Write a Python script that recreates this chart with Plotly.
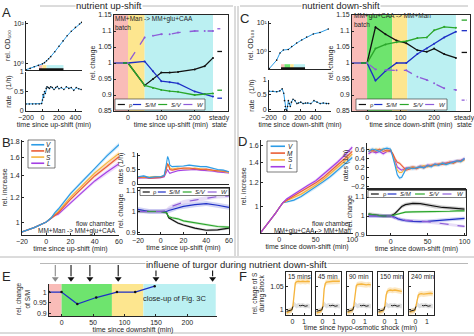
import plotly.graph_objects as go

W, H = 474, 336

# ---------------- colours ----------------
K_V, K_M, K_S, K_L = "#2c9ce6", "#ea5d35", "#f5b43c", "#a43fe4"
K_RHO, K_SM, K_SV, K_W = "#111111", "#1d2fc6", "#2aa62a", "#8d5cd8"
SH_PINK, SH_YEL, SH_CYAN, SH_GREEN = "#f9bcb8", "#fde68f", "#bbf0f2", "#6ee46e"

# ---------------- A: nutrient up-shift, batch ----------------
A_OD_T = [-200, -150, -100, -50, 0, 25, 50, 75, 100, 150, 200, 250, 300, 350, 400, 450, 475]
A_OD = [0.47, 0.55, 0.66, 0.78, 0.93, 1.07, 1.32, 1.66, 2.14, 3.8, 7.1, 13.2, 24, 40, 63, 93, 112]
A_RATE_T = [-200, -160, -120, -80, -40, -10, 0, 8, 15, 25, 35, 45, 55, 70, 85, 100, 120, 140,
            160, 180, 200, 230, 260, 290, 320, 350, 380, 410, 440, 470]
A_RATE = [0.18, 0.18, 0.18, 0.18, 0.18, 0.19, 0.28, 0.42, 0.35, 0.5, 0.45, 0.58, 0.62, 0.6, 0.58,
          0.62, 0.6, 0.55, 0.6, 0.63, 0.57, 0.6, 0.55, 0.62, 0.58, 0.6, 0.53, 0.6, 0.57, 0.55]
A_T = [-42, 0, 50, 75, 100, 125, 150, 200, 230, 255]
A_RHO = [1.0, 1.0, 0.93, 0.95, 0.97, 0.97, 0.972, 0.98, 0.99, 1.016]
A_SM = [1.0, 1.0, 1.005, 0.974, 0.943, 0.94, 0.936, 0.911, 0.903, 0.895]
A_SV = [1.0, 1.0, 0.93, 0.922, 0.916, 0.912, 0.91, 0.9, 0.902, 0.905]
A_WW = [1.0, 1.0, 1.08, 1.085, 1.09, 1.09, 1.095, 1.1, 1.1, 1.1]
A_STEADY = [1.036, 0.89, 0.915, 1.107]          # rho, S/M, S/V, W
A_PHASES = [-42, 0, 50, 255]                    # batch / transition / new medium
A_PHASE_COLS = [SH_PINK, SH_YEL, SH_CYAN]
A_SS_X = 275

# ---------------- C: nutrient down-shift, batch ----------------
C_OD_T = [-196, -101, -58, -15, 49, 93, 157, 222, 286, 372, 458, 565]
C_OD = [0.26, 0.51, 0.91, 1.15, 1.2, 1.51, 2.0, 2.57, 3.24, 4.17, 4.68, 6.17]
C_RATE_T = [-200, -150, -100, -60, -30, -10, 0, 10, 20, 30, 40, 50, 60, 75, 90, 110, 135, 160,
            180, 210, 240, 270, 300, 340, 380, 420, 460, 500, 540, 570]
C_RATE = [0.62, 0.62, 0.6, 0.63, 0.7, 0.55, 0.3, 0.1, 0.0, -0.03, 0.1, 0.3, 0.2, 0.1, 0.25,
          0.35, 0.3, 0.2, 0.22, 0.25, 0.2, 0.22, 0.22, 0.2, 0.3, 0.25, 0.2, 0.22, 0.2, 0.2]
C_T = [-45, 0, 25, 55, 88, 117, 150, 178, 200, 230, 265]
C_RHO = [1.0, 1.0, 1.112, 1.09, 1.07, 1.062, 1.04, 1.035, 1.045, 1.028, 1.016]
C_SM = [1.0, 1.0, 0.945, 0.975, 1.0, 1.0, 1.028, 1.045, 1.06, 1.08, 1.098]
C_SV = [1.0, 1.0, 1.045, 1.058, 1.065, 1.068, 1.078, 1.08, 1.102, 1.113, 1.11]
C_WW = [1.0, 1.0, 0.98, 0.978, 0.977, 0.977, 0.957, 0.947, 0.937, 0.921, 0.916]
C_STEADY = [1.033, 1.101, 1.134, 0.884]
C_PHASES = [-45, 0, 75, 120, 265]
C_PHASE_COLS = [SH_PINK, SH_GREEN, SH_YEL, SH_CYAN]
C_SS_X = 290

# ---------------- B: up-shift in flow chamber ----------------
B_T = [-20, -10, 0, 4, 7, 10, 20, 30, 40, 50, 60]
B_V = [0.93, 0.96, 1.0, 1.03, 1.07, 1.1, 1.23, 1.35, 1.47, 1.62, 1.76]
B_M = [0.93, 0.96, 1.0, 1.03, 1.05, 1.07, 1.18, 1.29, 1.4, 1.5, 1.61]
B_S = [0.93, 0.96, 1.0, 1.03, 1.05, 1.08, 1.2, 1.31, 1.43, 1.54, 1.65]
B_L = [0.93, 0.96, 1.0, 1.03, 1.05, 1.06, 1.15, 1.25, 1.35, 1.44, 1.53]
B_ERR = [0.005, 0.005, 0.005, 0.007, 0.01, 0.012, 0.015, 0.018, 0.02, 0.025, 0.03]
B_RT = [-20, -15, -10, -5, 0, 3, 5, 6, 7, 8, 10, 15, 20, 25, 30, 35, 40, 45, 50, 55, 60]
B_RV = [0.25, 0.28, 0.22, 0.25, 0.25, 0.3, 0.7, 0.95, 0.85, 0.65, 0.6, 0.6, 0.62, 0.65, 0.62, 0.6, 0.6, 0.55, 0.5, 0.48, 0.42]
B_RM = [0.22, 0.25, 0.2, 0.22, 0.23, 0.28, 0.55, 0.7, 0.62, 0.5, 0.48, 0.52, 0.55, 0.55, 0.53, 0.5, 0.52, 0.48, 0.45, 0.45, 0.42]
B_RS = [0.25, 0.22, 0.24, 0.26, 0.25, 0.3, 0.5, 0.7, 0.65, 0.55, 0.52, 0.55, 0.53, 0.52, 0.55, 0.52, 0.5, 0.47, 0.46, 0.44, 0.4]
B_RL = [0.2, 0.22, 0.2, 0.2, 0.22, 0.25, 0.4, 0.5, 0.42, 0.37, 0.4, 0.46, 0.48, 0.5, 0.5, 0.48, 0.47, 0.45, 0.42, 0.4, 0.38]
B_CT = [-20, -10, 0, 5, 7, 10, 15, 20, 30, 40, 50, 60]
B_RHO = [1.0, 1.0, 1.0, 0.995, 0.97, 0.96, 0.945, 0.935, 0.92, 0.91, 0.912, 0.92]
B_SM = [1.01, 1.0, 1.0, 1.0, 1.005, 1.01, 1.02, 1.025, 1.033, 1.038, 1.03, 1.02]
B_SV = [1.0, 1.0, 1.0, 0.995, 0.975, 0.97, 0.965, 0.955, 0.945, 0.935, 0.928, 0.925]
B_WW = [1.0, 1.0, 1.0, 1.005, 1.015, 1.025, 1.035, 1.045, 1.055, 1.065, 1.072, 1.075]

# ---------------- D: down-shift in flow chamber ----------------
D_T = [-25, -15, -5, 0, 5, 10, 20, 30, 40, 50, 60, 70, 80, 90, 100]
D_V = [0.82, 0.88, 0.95, 0.99, 1.03, 1.035, 1.05, 1.08, 1.12, 1.16, 1.21, 1.26, 1.32, 1.39, 1.46]
D_S = [0.82, 0.88, 0.95, 0.99, 1.03, 1.045, 1.07, 1.1, 1.14, 1.18, 1.23, 1.29, 1.35, 1.42, 1.5]
D_M = [0.82, 0.88, 0.95, 0.99, 1.03, 1.05, 1.085, 1.12, 1.16, 1.2, 1.25, 1.31, 1.38, 1.45, 1.53]
D_L = [0.82, 0.88, 0.95, 0.99, 1.03, 1.06, 1.1, 1.14, 1.18, 1.22, 1.28, 1.34, 1.41, 1.49, 1.58]
D_ERR = [0.005, 0.005, 0.005, 0.005, 0.006, 0.008, 0.01, 0.012, 0.014, 0.016, 0.018, 0.02, 0.022, 0.024, 0.026]
D_RT = [-30, -25, -20, -15, -10, -5, 0, 3, 6, 9, 12, 15, 18, 21, 25, 30, 35, 40, 45, 50, 55, 60,
        65, 70, 75, 80, 85, 90, 95, 100]
D_RV = [0.55, 0.6, 0.58, 0.55, 0.6, 0.62, 0.6, 0.45, 0.25, 0.05, -0.02, 0.0, 0.1, 0.18, 0.2, 0.18,
        0.2, 0.22, 0.2, 0.25, 0.22, 0.28, 0.25, 0.3, 0.27, 0.3, 0.32, 0.35, 0.33, 0.4]
D_RM = [0.55, 0.58, 0.55, 0.6, 0.55, 0.58, 0.57, 0.5, 0.4, 0.32, 0.3, 0.25, 0.18, 0.15, 0.17, 0.2,
        0.18, 0.22, 0.2, 0.24, 0.25, 0.26, 0.28, 0.27, 0.3, 0.32, 0.3, 0.34, 0.35, 0.38]
D_RS = [0.6, 0.55, 0.6, 0.58, 0.6, 0.55, 0.58, 0.48, 0.3, 0.15, 0.1, 0.1, 0.15, 0.18, 0.2, 0.22,
        0.2, 0.22, 0.25, 0.22, 0.26, 0.25, 0.28, 0.3, 0.28, 0.32, 0.3, 0.35, 0.33, 0.37]
D_RL = [0.5, 0.55, 0.52, 0.55, 0.5, 0.55, 0.55, 0.48, 0.35, 0.22, 0.18, 0.15, 0.17, 0.2, 0.2, 0.22,
        0.2, 0.24, 0.22, 0.26, 0.25, 0.28, 0.27, 0.3, 0.3, 0.32, 0.33, 0.35, 0.36, 0.4]
D_CT = [-30, -20, -10, 0, 5, 10, 15, 20, 30, 40, 50, 60, 70, 80, 90, 100]
D_RHO = [1.01, 1.005, 1.0, 1.0, 1.01, 1.03, 1.05, 1.06, 1.067, 1.065, 1.058, 1.05, 1.045, 1.043, 1.04, 1.036]
D_SV = [1.01, 1.005, 1.0, 1.0, 1.005, 1.012, 1.018, 1.02, 1.022, 1.022, 1.022, 1.022, 1.024, 1.025, 1.027, 1.027]
D_SM = [1.0, 1.0, 1.0, 1.0, 0.995, 0.985, 0.98, 0.975, 0.972, 0.97, 0.972, 0.975, 0.978, 0.982, 0.985, 0.988]
D_WW = [1.0, 1.0, 1.0, 1.0, 0.99, 0.985, 0.98, 0.978, 0.975, 0.973, 0.97, 0.965, 0.96, 0.955, 0.952, 0.945]

# ---------------- E: close-up of S/M after down-shift ----------------
E_T = [-20, 0, 25, 55, 88, 117, 148]
E_SM = [1.0, 1.0, 0.945, 0.975, 1.0, 1.0, 1.027]
E_PHASES = [-20, 0, 80, 130, 245]
E_PHASE_COLS = [SH_PINK, SH_GREEN, SH_YEL, SH_CYAN]
E_SHOCKS = [-10, 15, 45, 90, 150, 240]

# ---------------- F: hypo-osmotic shocks ----------------
F_T = [-0.5, -0.35, -0.2, -0.05, 0.05, 0.15, 0.25, 0.35, 0.5, 0.7, 0.9, 1.1, 1.3, 1.5]
F_TITLES = ["15 mins", "45 min", "90 min", "150 min", "240 min"]
F_S15 = [0.993, 0.995, 0.997, 1.0, 1.01, 1.045, 1.058, 1.061, 1.062, 1.061, 1.062, 1.061, 1.062, 1.061]
F_S45 = [0.993, 0.995, 0.996, 1.0, 1.01, 1.045, 1.057, 1.06, 1.061, 1.061, 1.062, 1.062, 1.062, 1.062]
F_S90 = [0.994, 0.996, 0.997, 1.0, 1.012, 1.04, 1.052, 1.055, 1.056, 1.056, 1.055, 1.054, 1.055, 1.054]
F_S150 = [0.994, 0.995, 0.997, 1.0, 1.01, 1.032, 1.04, 1.042, 1.043, 1.042, 1.043, 1.042, 1.041, 1.04]
F_S240 = [0.995, 0.996, 0.997, 0.999, 1.008, 1.025, 1.032, 1.034, 1.035, 1.034, 1.035, 1.035, 1.036, 1.035]
F_CTRL = [0.997, 0.998, 0.999, 1.0, 1.008, 1.013, 1.01, 1.008, 1.01, 1.009, 1.01, 1.008, 1.009, 1.008]

REL_NAMES = ["ρ", "S/M", "S/V", "W"]
REL_COLS = [K_RHO, K_SM, K_SV, K_W]
REL_DASH = ["solid", "solid", "solid", "dash"]
SIZE_NAMES = ["V", "M", "S", "L"]
SIZE_COLS = [K_V, K_M, K_S, K_L]

FONT = "Liberation Sans, DejaVu Sans, Arial, sans-serif"
INK = "#262626"

fig = go.Figure()
layout = dict(width=W, height=H, margin=dict(l=0, r=0, t=0, b=0), paper_bgcolor="white",
              plot_bgcolor="rgba(0,0,0,0)", showlegend=False,
              font=dict(family=FONT, size=7, color=INK))
shapes, annots = [], []

AX = dict(showline=True, linecolor=INK, linewidth=0.7, ticks="inside", ticklen=2, tickwidth=0.6,
          tickcolor=INK, tickfont=dict(size=7, color=INK), showgrid=False, zeroline=False,
          automargin=False, fixedrange=True)


def axes(n, xs, ys, xo=None, yo=None):
    xn = "xaxis" if n == 1 else f"xaxis{n}"
    yn = "yaxis" if n == 1 else f"yaxis{n}"
    xr = "x" if n == 1 else f"x{n}"
    yr = "y" if n == 1 else f"y{n}"
    bx = dict(AX, domain=[xs[0] / W, xs[1] / W], anchor=yr)
    by = dict(AX, domain=[1 - ys[1] / H, 1 - ys[0] / H], anchor=xr)
    bx.update(xo or {})
    by.update(yo or {})
    layout[xn], layout[yn] = bx, by
    return xr, yr


def title(s, size=7, standoff=1):
    return dict(text=s, font=dict(size=size, color=INK), standoff=standoff)


def line(ax, x, y, color, width=1.0, dash="solid", mode="lines", **kw):
    fig.add_trace(go.Scatter(x=x, y=y, xaxis=ax[0], yaxis=ax[1], mode=mode,
                             line=dict(color=color, width=width, dash=dash),
                             hoverinfo="skip", **kw))


def band(ax, x, y, err, color, alpha=0.22):
    errs = err if isinstance(err, list) else [err] * len(x)
    up = [v + e for v, e in zip(y, errs)]
    lo = [v - e for v, e in zip(y, errs)]
    r, g, b = int(color[1:3], 16), int(color[3:5], 16), int(color[5:7], 16)
    fig.add_trace(go.Scatter(x=list(x) + list(x)[::-1], y=up + lo[::-1], xaxis=ax[0], yaxis=ax[1],
                             mode="lines", fill="toself", line=dict(width=0),
                             fillcolor=f"rgba({r},{g},{b},{alpha})", hoverinfo="skip"))


def phases(ax, edges, cols, y0=0, y1=1):
    for a, b, c in zip(edges[:-1], edges[1:], cols):
        shapes.append(dict(type="rect", xref=ax[0], yref=f"{ax[1]} domain", x0=a, x1=b, y0=y0, y1=y1,
                           fillcolor=c, line=dict(width=0), layer="below"))


def seg(x0, y0, x1, y1, color="#b8b8b8", w=1.0, dash="solid"):
    shapes.append(dict(type="line", xref="paper", yref="paper", x0=x0 / W, y0=1 - y0 / H,
                       x1=x1 / W, y1=1 - y1 / H, line=dict(color=color, width=w, dash=dash)))


def box(x0, y0, x1, y1, w=0.6):
    shapes.append(dict(type="rect", xref="paper", yref="paper", x0=x0 / W, y0=1 - y1 / H,
                       x1=x1 / W, y1=1 - y0 / H, line=dict(color=INK, width=w), fillcolor="white"))


def text(x, y, s, size=7, xanchor="left", yanchor="middle", style="normal", xref="paper", **kw):
    annots.append(dict(x=x / W if xref == "paper" else x, y=1 - y / H, xref=xref, yref="paper", text=s,
                       showarrow=False,
                       font=dict(size=size, color=kw.pop("color", INK), family=FONT, style=style),
                       xanchor=xanchor, yanchor=yanchor, borderpad=0, **kw))


def rel_legend(x0, y0, x1, y1, size=6):
    box(x0, y0, x1, y1)
    w = x1 - x0
    ym = (y0 + y1) / 2
    spans = [(0.03, 0.11, 0.14), (0.2, 0.29, 0.32), (0.48, 0.58, 0.61), (0.76, 0.87, 0.9)]
    for (a, b, t), name, col, dsh in zip(spans, REL_NAMES, REL_COLS, REL_DASH):
        seg(x0 + a * w, ym, x0 + b * w, ym, color=col, w=1.2, dash=dsh)
        text(x0 + t * w, ym + 0.3, name, size=size, style="normal" if name == "ρ" else "italic")


def size_legend(x0, y0, x1, y1, size=6.5):
    box(x0, y0, x1, y1)
    w, h = x1 - x0, y1 - y0
    for i, (name, col) in enumerate(zip(SIZE_NAMES, SIZE_COLS)):
        yy = y0 + h * (0.17 + 0.22 * i)
        seg(x0 + 0.12 * w, yy, x0 + 0.6 * w, yy, color=col, w=1.6)
        text(x0 + 0.9 * w, yy, name, size=size, xanchor="right", style="italic")


def steady_marks(ax, xc, half, values):
    for ss, col, dsh in zip(values, REL_COLS, REL_DASH):
        line(ax, [xc - half, xc + half], [ss, ss], col, width=1.3,
             dash="3px,2px" if dsh == "dash" else "solid")
    # two-line "steady state" label below the axis at the steady-state position
    text(xc, 117.5, "steady", xref=ax[0], xanchor="center", size=6.8)
    text(xc, 124.5, "state", xref=ax[0], xanchor="center", size=6.8)


# ================= panel A =================
axA1 = axes(1, (26, 82), (21, 70),
            dict(range=[-200, 480], showticklabels=False, ticks=""),
            dict(type="log", range=[-0.34, 2.12], tickvals=[1, 100],
                 ticktext=["10⁰", "10²"], title=title("rel. OD₆₀₀")))
axA2 = axes(2, (26, 82), (72, 111),
            dict(range=[-200, 480], tickvals=[-200, 0, 200, 400], title=title("time since up-shift (min)")),
            dict(range=[0, 1], tickvals=[0, 0.5, 1], ticktext=["0", "0.5", "1"], title=title("rate   (1/h)")))
axA3 = axes(3, (114, 228), (15, 111),
            dict(range=[-42, 300], tickvals=[0, 100, 200], mirror=True,
                 title=title("time since up-shift (min)")),
            dict(range=[0.85, 1.15], tickvals=[0.85, 0.9, 0.95, 1, 1.05, 1.1, 1.15],
                 title=title("rel. change"), mirror=True))

# timeline bar under the OD curve
phases(axA1, A_PHASES, A_PHASE_COLS, 0.02, 0.1)
shapes.append(dict(type="line", xref="x", yref="y domain", x0=A_PHASES[0], x1=A_PHASES[-1], y0=0.01, y1=0.01,
                   line=dict(color="#111", width=2.5)))
line(axA1, A_OD_T, A_OD, K_V, width=1.0, mode="lines+markers", marker=dict(size=1.6, color="#111"))
line(axA2, A_RATE_T, A_RATE, K_V, width=1.0, mode="lines+markers", marker=dict(size=1.6, color="#111"))

phases(axA3, A_PHASES, A_PHASE_COLS)
for ys, col, dsh in zip([A_RHO, A_SM, A_SV, A_WW], REL_COLS, REL_DASH):
    line(axA3, A_T, ys, col, width=1.3, dash=dsh, mode="lines+markers", marker=dict(size=2, color=col))
steady_marks(axA3, A_SS_X, 7, A_STEADY)
text(114, 19, "MM+Man -> MM+glu+CAA", size=6.5)
text(114, 27.5, "batch", size=6.5)
rel_legend(115, 99, 205, 110)

# ================= panel C =================
axC4 = axes(4, (269, 331), (21, 69),
            dict(range=[-200, 600], showticklabels=False, ticks=""),
            dict(type="log", range=[-0.6, 1.07], tickvals=[1, 10],
                 ticktext=["10⁰", "10¹"], title=title("rel. OD₆₀₀")))
axC5 = axes(5, (269, 331), (80, 111),
            dict(range=[-200, 600], tickvals=[-200, 0, 200, 400], title=title("time since down-shift (min)")),
            dict(range=[-0.05, 1.0], tickvals=[0, 0.5, 1], ticktext=["0", "0.5", "1"], title=title("rate   (1/h)")))
axC6 = axes(6, (352, 470), (15, 111),
            dict(range=[-45, 307], tickvals=[0, 100, 200], mirror=True,
                 title=title("time since down-shift (min)")),
            dict(range=[0.85, 1.15], tickvals=[0.85, 0.9, 0.95, 1, 1.05, 1.1, 1.15],
                 title=title("rel. change"), mirror=True))
phases(axC4, C_PHASES, C_PHASE_COLS, 0.02, 0.1)
shapes.append(dict(type="line", xref="x4", yref="y4 domain", x0=C_PHASES[0], x1=C_PHASES[-1], y0=0.01, y1=0.01,
                   line=dict(color="#111", width=2.5)))
line(axC4, C_OD_T, C_OD, K_V, width=1.0, mode="lines+markers", marker=dict(size=1.6, color="#111"))
line(axC5, C_RATE_T, C_RATE, K_V, width=1.0, mode="lines+markers", marker=dict(size=1.6, color="#111"))

phases(axC6, C_PHASES, C_PHASE_COLS)
for ys, col, dsh in zip([C_RHO, C_SM, C_SV, C_WW], REL_COLS, REL_DASH):
    line(axC6, C_T, ys, col, width=1.3, dash=dsh, mode="lines+markers", marker=dict(size=2, color=col))
steady_marks(axC6, C_SS_X, 8, C_STEADY)
text(353, 16, "MM+glu+CAA -> MM+Man", size=6.5)
text(353, 25, "batch", size=6.5)
rel_legend(356, 99, 447, 110)

# ================= panel B =================
axB7 = axes(7, (22, 119), (140, 235),
            dict(range=[-20, 60], tickvals=[-20, 0, 20, 40, 60], title=title("time since up-shift (min)")),
            dict(type="log", range=[-0.041, 0.26], tickvals=[1, 1.2, 1.4, 1.6, 1.8],
                 ticktext=["1", "1.2", "1.4", "1.6", "1.8"], title=title("rel. increase")))
axB8 = axes(8, (138, 229), (153, 184),
            dict(range=[-20, 60], showticklabels=False, ticks=""),
            dict(range=[0, 1.07], tickvals=[0, 0.5, 1], ticktext=["0", "0.5", "1"], title=title("rates (1/h)")))
axB9 = axes(9, (138, 229), (188, 234),
            dict(range=[-20, 60], tickvals=[-20, 0, 20, 40, 60], mirror=True, title=title("time since up-shift (min)")),
            dict(range=[0.892, 1.113], tickvals=[0.9, 1, 1.1], ticktext=["0.9", "1", "1.1"], mirror=True,
                 title=title("rel. change")))
for ys, col in zip([B_L, B_S, B_M, B_V], [K_L, K_S, K_M, K_V]):
    band(axB7, B_T, ys, B_ERR, col, 0.2)
    line(axB7, B_T, ys, col, width=1.2)
for ys, col in zip([B_RL, B_RS, B_RM, B_RV], [K_L, K_S, K_M, K_V]):
    band(axB8, B_RT, ys, 0.03, col, 0.18)
    line(axB8, B_RT, ys, col, width=1.1)
for ys, col, dsh, e in zip([B_RHO, B_SM, B_SV, B_WW], REL_COLS, REL_DASH, [0.006, 0.012, 0.006, 0.01]):
    band(axB9, B_CT, ys, e, col, 0.2)
    line(axB9, B_CT, ys, col, width=1.2, dash=dsh)
size_legend(28, 140, 55, 168)
rel_legend(140, 188.5, 229, 195.5, size=6)
text(116, 223.5, "flow chamber", size=6.5, xanchor="right")
text(117, 231, "MM+Man -> MM+glu+CAA", size=6.5, xanchor="right")

# ================= panel D =================
axD10 = axes(10, (261, 353), (140, 233),
             dict(range=[-25, 101], tickvals=[0, 50, 100], title=title("time since down-shift (min)")),
             dict(type="log", range=[-0.089, 0.223], tickvals=[1, 1.2, 1.4, 1.6],
                  ticktext=["1", "1.2", "1.4", "1.6"], title=title("rel. increase")))
axD11 = axes(11, (367, 466), (143, 188),
             dict(range=[-32, 102], showticklabels=False, ticks=""),
             dict(range=[-0.23, 0.73], tickvals=[-0.2, 0, 0.2, 0.4, 0.6], title=title("rates (1/h)")))
axD12 = axes(12, (367, 466), (190, 235),
             dict(range=[-32, 102], tickvals=[0, 50, 100], mirror=True, title=title("time since down-shift (min)")),
             dict(range=[0.9, 1.137], tickvals=[0.9, 1, 1.1], ticktext=["0.9", "1", "1.1"], mirror=True,
                  title=title("rel. change")))
for ys, col in zip([D_V, D_S, D_M, D_L], [K_V, K_S, K_M, K_L]):
    band(axD10, D_T, ys, D_ERR, col, 0.2)
    line(axD10, D_T, ys, col, width=1.2)
for ys, col in zip([D_RL, D_RS, D_RM, D_RV], [K_L, K_S, K_M, K_V]):
    band(axD11, D_RT, ys, 0.04, col, 0.16)
    line(axD11, D_RT, ys, col, width=1.1)
for ys, col, dsh, e in zip([D_RHO, D_SM, D_SV, D_WW], REL_COLS, REL_DASH, [0.01, 0.01, 0.006, 0.008]):
    band(axD12, D_CT, ys, e, col, 0.2)
    line(axD12, D_CT, ys, col, width=1.2, dash=dsh)
size_legend(267, 141, 297, 172)
rel_legend(368, 190.5, 466, 197.5, size=6)
text(352, 223, "flow chamber", size=6.5, xanchor="right")
text(352, 231, "MM+glu+CAA -> MM+Man", size=6.5, xanchor="right")

# ================= panel E =================
axE = axes(13, (49, 217), (284, 316),
           dict(range=[-20, 247], tickvals=[0, 50, 100, 150, 200], title=title("time since downshift (min)")),
           dict(range=[0.89, 1.037], tickvals=[0.9, 0.95, 1], ticktext=["0.9", "0.95", "1"]))
text(19, 299, "rel. change", size=6.5, xanchor="center", textangle=-90)
text(26.5, 299, "of S/M", size=6.5, xanchor="center", textangle=-90)
phases(axE, E_PHASES, E_PHASE_COLS)
line(axE, E_T, E_SM, K_SM, width=1.3, mode="lines+markers", marker=dict(size=2.5, color="#111"))
text(175, 298, "close-up of Fig. 3C", size=7.5, xanchor="center")

# shock time points marked by arrows above the close-up (own hidden axis, same time scale)
axArrow = axes(19, (49, 217), (264, 283),
               dict(range=[-20, 247], visible=False, showline=False),
               dict(range=[0, 1], visible=False, showline=False))
for i, t in enumerate(E_SHOCKS):
    col = "#8a8a8a" if i == 0 else "#111111"
    line(axArrow, [t, t], [0.95, 0.35], col, width=1.1)
    fig.add_trace(go.Scatter(x=[t], y=[0.22], xaxis=axArrow[0], yaxis=axArrow[1], mode="markers",
                             marker=dict(symbol="triangle-down", size=6, color=col), hoverinfo="skip"))

# ================= panel F =================
F_X = [(286, 311), (316, 341), (347, 372), (378, 403), (409, 434)]
for k, ((x0, x1), ttl, ys) in enumerate(zip(F_X, F_TITLES, [F_S15, F_S45, F_S90, F_S150, F_S240])):
    ax = axes(14 + k, (x0, x1), (272, 315),
              dict(range=[-0.55, 1.6], tickvals=[0, 1], mirror=True),
              dict(range=[0.989, 1.082], tickvals=[1, 1.05], ticktext=["1", "1.05"], mirror=True,
                   showticklabels=(k == 0)))
    band(ax, F_T, F_CTRL, 0.005, "#808080", 0.25)
    band(ax, F_T, ys, 0.006, K_S, 0.3)
    line(ax, F_T, ys, K_S, width=1.3)
    line(ax, F_T, F_CTRL, "#222222", width=1.0, dash="dash")
    text(x0 + 1, 276.5, ttl, size=6.5)
text(254.5, 293, "rel. chage of S", size=6.5, xanchor="center", textangle=-90)
text(262, 293, "during shock", size=6.5, xanchor="center", textangle=-90)
text(360, 328, "time since hypo-osmotic shock (min)", size=7, xanchor="center")

# ================= frames, section titles and panel letters =================
seg(40, 6, 233, 6)
seg(240, 6, 468, 6)
seg(235, 6, 235, 256)
seg(238, 6, 238, 256)
seg(0, 257, 474, 257)
seg(40, 263.5, 468, 263.5)
seg(0, 333, 474, 333)
text(109, 5.5, "nutrient up-shift", size=9.5, xanchor="center", bgcolor="white")
text(341, 5.5, "nutrient down-shift", size=9.5, xanchor="center", bgcolor="white")
text(236, 264, "influene of turgor during nutrient down-shift", size=9.5, xanchor="center", bgcolor="white")
for s, x, y in [("A", 6, 13), ("B", 6, 142), ("C", 244, 18), ("D", 242, 141), ("E", 6, 276), ("F", 243, 276)]:
    text(x, y, s, size=13, xanchor="center")

layout["shapes"] = shapes
layout["annotations"] = annots
fig.update_layout(**layout)
fig.write_html("out.html")
